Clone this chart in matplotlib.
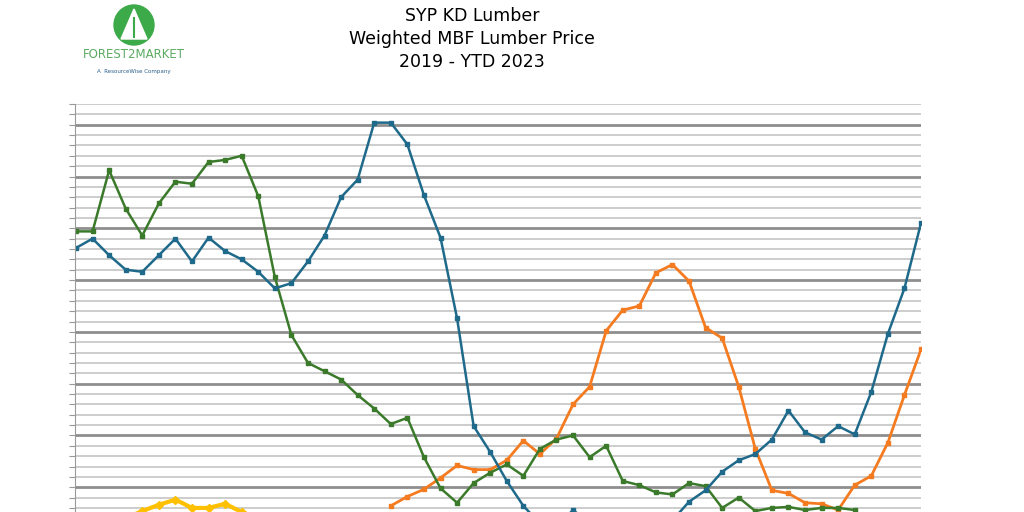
import matplotlib.pyplot as plt
import numpy as np
from matplotlib.patches import Circle, Polygon

nan = np.nan
n_points = 52
months = np.arange(n_points)

blue_vals = [28.1, 29.0, 27.4, 26.0, 25.8, 27.4, 29.0, 26.8, 29.1, 27.8, 27.0, 25.8, 24.2, 24.7,
             26.8, 29.3, 33.0, 34.7, 40.2, 40.2, 38.1, 33.2, 29.1, 21.3, 10.9, 8.4, 5.6, 3.2,
             1.5, 1.2, 2.8, 1.5, 1.0, 0.8, 0.8, 1.0, 1.8, 3.6, 4.7, 6.5, 7.6, 8.2, 9.6, 12.4,
             10.3, 9.6, 10.9, 10.1, 14.2, 19.8, 24.2, 30.5]
green_vals = [29.7, 29.7, 35.6, 31.9, 29.3, 32.4, 34.5, 34.3, 36.4, 36.6, 37.0, 33.1, 25.3, 19.7,
              17.0, 16.2, 15.4, 13.9, 12.6, 11.1, 11.7, 7.9, 4.9, 3.5, 5.4, 6.4, 7.2, 6.1, 8.7,
              9.6, 10.0, 7.9, 9.0, 5.6, 5.2, 4.5, 4.3, 5.4, 5.1, 3.0, 4.0, 2.7, 3.0, 3.1, 2.8,
              3.0, 3.0, 2.8, nan, nan, nan, nan]
orange_vals = [nan] * 19 + [3.2, 4.1, 4.8, 5.9, 7.1, 6.7, 6.7, 7.6, 9.5, 8.2, 9.7, 13.0, 14.7,
                            20.1, 22.1, 22.5, 25.7, 26.5, 24.9, 20.4, 19.4, 14.7, 8.7, 4.7, 4.4,
                            3.5, 3.4, 2.8, 5.2, 6.1, 9.3, 13.9, 18.3]
gold_vals = [nan] * 3 + [2.0, 2.7, 3.3, 3.8, 3.0, 3.0, 3.4, 2.6, 2.0] + [nan] * 40

fig = plt.figure(figsize=(10.24, 5.12), dpi=100)
ax = fig.add_axes([75 / 1024, -27 / 512, 846 / 1024, 435 / 512])
ax.set_xlim(-0.06, 51.0)
ax.set_ylim(0, 42)

for v in range(1, 43):
    thick = v % 5 == 0
    ax.axhline(v, color="#8e8e8e" if thick else "#cdcdcd", lw=2.0 if thick else 1.4, zorder=0)

ax.plot(months, gold_vals, color="#FFC000", lw=3, marker="D", ms=4)
ax.plot(months, orange_vals, color="#F47B20", lw=2, marker="s", ms=3.5)
ax.plot(months, green_vals, color="#3B7A2B", lw=1.8, marker="s", ms=3.5)
ax.plot(months, blue_vals, color="#1F6A8A", lw=1.8, marker="s", ms=3.5)

for s in ["top", "right", "bottom"]:
    ax.spines[s].set_visible(False)
ax.spines["left"].set_color("#999999")
ax.set_yticks(range(0, 43))
ax.set_yticklabels([])
ax.tick_params(axis="y", length=4, color="#999999", direction="out")
ax.set_xticks([])

fig.text(472 / 1024, 1 - 16 / 512, "SYP KD Lumber", ha="center", va="center", fontsize=12.5)
fig.text(472 / 1024, 1 - 39 / 512, "Weighted MBF Lumber Price", ha="center", va="center", fontsize=12.5)
fig.text(472 / 1024, 1 - 62 / 512, "2019 - YTD 2023", ha="center", va="center", fontsize=12.5)

# logo
logo = fig.add_axes([0, 0, 1, 1], zorder=-1)
logo.set_xlim(0, 1024)
logo.set_ylim(512, 0)
logo.axis("off")
logo.add_patch(Circle((134, 25), 20, color="#3DAA4A"))
logo.add_patch(Polygon([[134, 9], [121, 39], [147, 39]], color="white"))
logo.plot([134, 134], [18, 37], color="#3DAA4A", lw=1.5)
logo.text(134, 55, "FOREST2MARKET", ha="center", va="center", fontsize=8.5, color="#5CAA62")
logo.text(134, 72, "A  ResourceWise Company", ha="center", va="center", fontsize=4, color="#2B5F8A")

fig.savefig("out.png", dpi=100)
